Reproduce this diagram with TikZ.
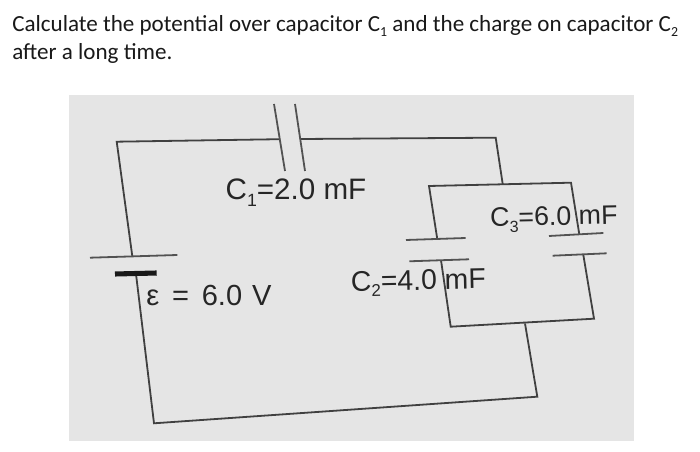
\documentclass[tikz,border=0pt]{standalone}
\usepackage{fontspec}
\setmainfont{Liberation Sans}
\newfontfamily\titlefont{Carlito}
\newcommand{\lowidx}[1]{\raisebox{-0.4ex}{\scalebox{0.6}{#1}}}
\begin{document}
\begin{tikzpicture}[x=0.75pt,y=-0.75pt,
  wire/.style={draw=black!75,line width=1.35pt},
  plate/.style={draw=black!68,line width=1.35pt},
  thickplate/.style={draw=black!90,line width=3.8pt},
  circuitlabel/.style={inner sep=0pt,anchor=base,text=black!85},
  titleline/.style={inner sep=0pt,anchor=base west,text=black!90,font=\titlefont\fontsize{17.3}{20}\selectfont}]
\useasboundingbox (0,0) rectangle (700,452);
\fill[white] (0,0) rectangle (700,452);
\fill[black!10] (69,95) rectangle (634,441);
% title
\node[titleline] (t1) at (12,32) {Calculate the potential over capacitor C\lowidx{1} and the charge on capacitor C\lowidx{2}};
\node[titleline] (t2) at (12,60) {after a long time.};
% coordinates
\coordinate (tl) at (116.7,141.7);
\coordinate (c1l) at (279.5,139.2);
\coordinate (c1r) at (300.7,139);
\coordinate (tr) at (495.7,137.7);
\coordinate (jt) at (502.7,184);
\coordinate (rtl) at (429,186);
\coordinate (rtr) at (571,182.7);
\coordinate (c2t) at (437.3,239.2);
\coordinate (c2b) at (441,260.2);
\coordinate (rbl) at (450.7,326.7);
\coordinate (rbr) at (594,318.7);
\coordinate (jb) at (525,323.4);
\coordinate (c3t) at (579.3,234.3);
\coordinate (c3b) at (583.3,254.8);
\coordinate (br) at (537.3,396.7);
\coordinate (bl) at (154,423.3);
\coordinate (batb) at (136,274);
\coordinate (batt) at (132.3,256.2);
% wires
\draw[wire,line join=miter] (batt) -- (tl) -- (c1l);
\draw[wire,line join=miter] (c1r) -- (tr) -- (jt);
\draw[wire,line join=miter] (c2t) -- (rtl) -- (rtr) -- (c3t);
\draw[wire,line join=miter] (c2b) -- (rbl) -- (rbr) -- (c3b);
\draw[wire,line join=miter] (jb) -- (br) -- (bl) -- (batb);
% capacitor plates
\draw[plate] (274,104) -- (285,171);
\draw[plate] (295,104) -- (305,171);
\draw[plate] (406,240) -- (465.7,238);
\draw[plate] (409.3,261.3) -- (469,259.3);
\draw[plate] (549,236) -- (603.3,233);
\draw[plate] (552.7,255.7) -- (606.7,253.3);
% battery
\draw[plate] (90,257.7) -- (177.3,255);
\draw[thickplate] (115,274) -- (156.7,273);
% labels
\node[circuitlabel,font=\fontsize{22.2}{24}\selectfont] (lc1) at (296,200) {C\lowidx{1}=2.0 mF};
\node[circuitlabel,font=\fontsize{21.8}{24}\selectfont] (le) at (209,306) {ε\hspace{3.5pt} = \hspace{3.5pt}6.0 \hspace{1.5pt}V};
\node[circuitlabel,font=\fontsize{21.3}{24}\selectfont,rotate=1.2] (lc2) at (418.5,290) {C\lowidx{2}=4.0 mF};
\node[circuitlabel,font=\fontsize{20.1}{24}\selectfont,rotate=1.2] (lc3) at (554,225.5) {C\lowidx{3}=6.0 mF};
\end{tikzpicture}
\end{document}
